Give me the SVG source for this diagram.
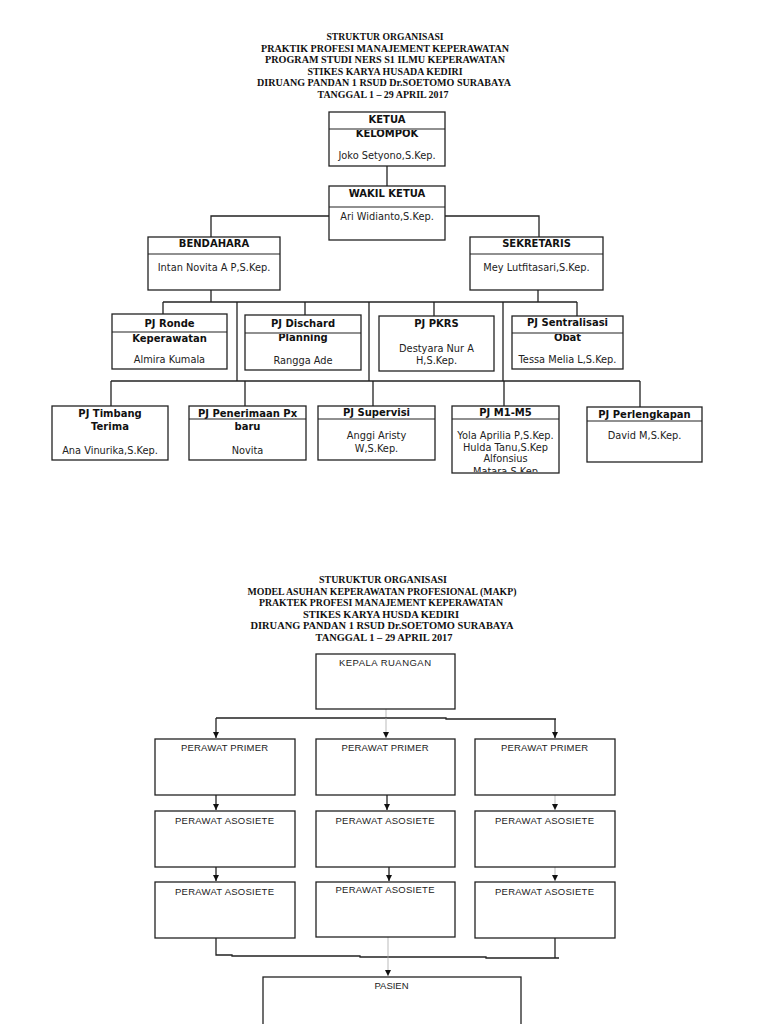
<svg xmlns="http://www.w3.org/2000/svg" width="768" height="1024" viewBox="0 0 768 1024">
<style>
.bx{fill:#fff;stroke:#222;stroke-width:1.3}
.hl{stroke:#222;stroke-width:1.2}
.cn{fill:none;stroke:#222;stroke-width:1.3}
.cg{fill:none;stroke:#aaa;stroke-width:0.8}
.t{font-family:"DejaVu Sans",sans-serif;font-size:9.8px;fill:#222;text-anchor:middle}
.b{font-family:"DejaVu Sans",sans-serif;font-size:10px;font-weight:bold;fill:#111;text-anchor:middle}
.tt{font-family:"Liberation Serif",serif;font-size:11px;font-weight:bold;fill:#111;text-anchor:middle}
.a{font-family:"Liberation Sans",sans-serif;font-size:9.5px;fill:#222;text-anchor:middle}
</style>
<defs>
<marker id="ar" markerUnits="userSpaceOnUse" markerWidth="6" markerHeight="6" refX="6" refY="3" orient="auto"><path d="M0,0 L6,3 L0,6 z" fill="#111"/></marker>
<clipPath id="c1"><rect x="320" y="130" width="130" height="40"/></clipPath>
<clipPath id="c2"><rect x="240" y="334" width="130" height="40"/></clipPath>
<clipPath id="c3"><rect x="505" y="334" width="130" height="40"/></clipPath>
<clipPath id="c4"><rect x="445" y="400" width="130" height="72"/></clipPath>
</defs>
<rect width="768" height="1024" fill="#fff"/>

<g id="title1">
<text class="tt" x="385" y="40" textLength="117" lengthAdjust="spacingAndGlyphs">STRUKTUR ORGANISASI</text>
<text class="tt" x="385" y="51.5" textLength="248" lengthAdjust="spacingAndGlyphs">PRAKTIK PROFESI MANAJEMENT KEPERAWATAN</text>
<text class="tt" x="385" y="63" textLength="240" lengthAdjust="spacingAndGlyphs">PROGRAM STUDI NERS S1 ILMU KEPERAWATAN</text>
<text class="tt" x="385" y="74.5" textLength="155" lengthAdjust="spacingAndGlyphs">STIKES KARYA HUSADA KEDIRI</text>
<text class="tt" x="384" y="86" textLength="254" lengthAdjust="spacingAndGlyphs">DIRUANG PANDAN 1 RSUD Dr.SOETOMO SURABAYA</text>
<text class="tt" x="383" y="97.5" textLength="131" lengthAdjust="spacingAndGlyphs">TANGGAL 1 – 29 APRIL 2017</text>
</g>

<g id="connectors1">
<path class="cn" d="M387,166 V186"/>
<path class="cn" d="M329,216 H211 V237 M445,216 H539 V237"/>
<path class="cn" d="M211,290 V302 M538,290 V302"/>
<path class="cn" d="M163,302 H577"/>
<path class="cn" d="M163,302 V314 M305,302 V315 M434,302 V316 M577,302 V316"/>
<path class="cn" d="M237,302 V381 M369,302 V381 M503,302 V381"/>
<path class="cn" d="M111,381 H640"/>
<path class="cn" d="M111,381 V406 M245,381 V406 M373,381 V406 M504,381 V406 M640,381 V407"/>
</g>

<g id="ketua">
<rect class="bx" x="329" y="112" width="116" height="54"/>
<text class="b" x="387" y="137" clip-path="url(#c1)">KELOMPOK</text>
<line class="hl" x1="329" y1="129" x2="445" y2="129"/>
<text class="b" x="387" y="123">KETUA</text>
<text class="t" x="387" y="159">Joko Setyono,S.Kep.</text>
</g>
<g id="wakil">
<rect class="bx" x="329" y="186" width="116" height="54"/>
<line class="hl" x1="329" y1="207" x2="445" y2="207"/>
<text class="b" x="387" y="197">WAKIL KETUA</text>
<text class="t" x="387" y="220">Ari Widianto,S.Kep.</text>
</g>
<g id="bendahara">
<rect class="bx" x="148" y="237" width="132" height="53"/>
<line class="hl" x1="148" y1="254" x2="280" y2="254"/>
<text class="b" x="214" y="247">BENDAHARA</text>
<text class="t" x="214" y="271">Intan Novita A P,S.Kep.</text>
</g>
<g id="sekretaris">
<rect class="bx" x="470" y="237" width="133" height="53"/>
<line class="hl" x1="470" y1="254" x2="603" y2="254"/>
<text class="b" x="536.5" y="247">SEKRETARIS</text>
<text class="t" x="536.5" y="271">Mey Lutfitasari,S.Kep.</text>
</g>

<g id="pj-ronde">
<rect class="bx" x="112" y="314" width="115" height="55"/>
<line class="hl" x1="112" y1="332" x2="227" y2="332"/>
<text class="b" x="169.5" y="327">PJ Ronde</text>
<text class="b" x="169.5" y="342">Keperawatan</text>
<text class="t" x="169.5" y="363">Almira Kumala</text>
</g>
<g id="pj-dischard">
<rect class="bx" x="245" y="315" width="116" height="55"/>
<text class="b" x="303" y="341" clip-path="url(#c2)">Planning</text>
<line class="hl" x1="245" y1="333" x2="361" y2="333"/>
<text class="b" x="303" y="327">PJ Dischard</text>
<text class="t" x="303" y="364">Rangga Ade</text>
</g>
<g id="pj-pkrs">
<rect class="bx" x="379" y="316" width="115" height="55"/>
<text class="b" x="436.5" y="327">PJ PKRS</text>
<text class="t" x="436.5" y="352">Destyara Nur A</text>
<text class="t" x="436.5" y="364">H,S.Kep.</text>
</g>
<g id="pj-sentralisasi">
<rect class="bx" x="512" y="316" width="111" height="53"/>
<text class="b" x="567.5" y="341" clip-path="url(#c3)">Obat</text>
<line class="hl" x1="512" y1="333" x2="623" y2="333"/>
<text class="b" x="567.5" y="326">PJ Sentralisasi</text>
<text class="t" x="567.5" y="363">Tessa Melia L,S.Kep.</text>
</g>

<g id="pj-timbang">
<rect class="bx" x="52" y="406" width="116" height="54"/>
<text class="b" x="110" y="417">PJ Timbang</text>
<text class="b" x="110" y="430">Terima</text>
<text class="t" x="110" y="454">Ana Vinurika,S.Kep.</text>
</g>
<g id="pj-penerimaan">
<rect class="bx" x="189" y="406" width="117" height="54"/>
<line class="hl" x1="189" y1="419" x2="306" y2="419"/>
<text class="b" x="247.5" y="417">PJ Penerimaan Px</text>
<text class="b" x="247.5" y="430">baru</text>
<text class="t" x="247.5" y="454">Novita</text>
</g>
<g id="pj-supervisi">
<rect class="bx" x="318" y="406" width="117" height="54"/>
<line class="hl" x1="318" y1="419" x2="435" y2="419"/>
<text class="b" x="376.5" y="416">PJ Supervisi</text>
<text class="t" x="376.5" y="439">Anggi Aristy</text>
<text class="t" x="376.5" y="452">W,S.Kep.</text>
</g>
<g id="pj-m1m5">
<rect class="bx" x="452" y="406" width="107" height="67"/>
<line class="hl" x1="452" y1="419" x2="559" y2="419"/>
<text class="b" x="505.5" y="416">PJ M1-M5</text>
<g clip-path="url(#c4)">
<text class="t" x="505.5" y="439">Yola Aprilia P,S.Kep.</text>
<text class="t" x="505.5" y="451">Hulda Tanu,S.Kep</text>
<text class="t" x="505.5" y="462">Alfonsius</text>
<text class="t" x="505.5" y="475">Matara,S.Kep</text>
</g>
</g>
<g id="pj-perlengkapan">
<rect class="bx" x="587" y="407" width="115" height="55"/>
<line class="hl" x1="587" y1="421" x2="702" y2="421"/>
<text class="b" x="644.5" y="418">PJ Perlengkapan</text>
<text class="t" x="644.5" y="439">David M,S.Kep.</text>
</g>

<g id="title2">
<text class="tt" x="383" y="583" textLength="128" lengthAdjust="spacingAndGlyphs">STURUKTUR ORGANISASI</text>
<text class="tt" x="382" y="594.5" textLength="269" lengthAdjust="spacingAndGlyphs">MODEL ASUHAN KEPERAWATAN PROFESIONAL (MAKP)</text>
<text class="tt" x="381" y="606" textLength="244" lengthAdjust="spacingAndGlyphs">PRAKTEK PROFESI MANAJEMENT KEPERAWATAN</text>
<text class="tt" x="381" y="617.5" textLength="156" lengthAdjust="spacingAndGlyphs">STIKES KARYA HUSDA KEDIRI</text>
<text class="tt" x="382" y="629" textLength="263" lengthAdjust="spacingAndGlyphs">DIRUANG PANDAN 1 RSUD Dr.SOETOMO SURABAYA</text>
<text class="tt" x="384" y="640.5" textLength="137" lengthAdjust="spacingAndGlyphs">TANGGAL 1 – 29 APRIL 2017</text>
</g>

<g id="connectors2">
<path class="cg" d="M386,709 V718"/>
<path class="cn" d="M216,718 H446 V719 H556"/>
<path class="cn" d="M216,718 V738" marker-end="url(#ar)"/>
<path class="cg" d="M386,718 V738" marker-end="url(#ar)"/>
<path class="cn" d="M555,719 V738" marker-end="url(#ar)"/>
<path class="cn" d="M216,795 V810" marker-end="url(#ar)"/>
<path class="cn" d="M387,795 V810" marker-end="url(#ar)"/>
<path class="cg" d="M555,795 V810" marker-end="url(#ar)"/>
<path class="cn" d="M216,867 V881" marker-end="url(#ar)"/>
<path class="cn" d="M389,867 V881" marker-end="url(#ar)"/>
<path class="cg" d="M555,867 V881" marker-end="url(#ar)"/>
<path class="cn" d="M216,938 V955 H232 V956 H360 V957 H486 V958 H559 M555,938 V958"/>
<path class="cg" d="M388,937 V976" marker-end="url(#ar)"/>
</g>

<g id="kepala-ruangan">
<rect class="bx" x="316" y="654" width="139" height="55"/>
<text class="a" x="385" y="666" textLength="92">KEPALA RUANGAN</text>
</g>
<g id="primer-1">
<rect class="bx" x="155" y="739" width="140" height="56"/>
<text class="a" x="224.5" y="751" textLength="87">PERAWAT PRIMER</text>
</g>
<g id="primer-2">
<rect class="bx" x="316" y="739" width="139" height="56"/>
<text class="a" x="385" y="751" textLength="87">PERAWAT PRIMER</text>
</g>
<g id="primer-3">
<rect class="bx" x="475" y="739" width="140" height="56"/>
<text class="a" x="544.5" y="751" textLength="87">PERAWAT PRIMER</text>
</g>
<g id="asosiete-1a">
<rect class="bx" x="155" y="811" width="140" height="56"/>
<text class="a" x="224.5" y="824" textLength="99">PERAWAT ASOSIETE</text>
</g>
<g id="asosiete-2a">
<rect class="bx" x="316" y="811" width="139" height="56"/>
<text class="a" x="385" y="824" textLength="99">PERAWAT ASOSIETE</text>
</g>
<g id="asosiete-3a">
<rect class="bx" x="475" y="811" width="140" height="56"/>
<text class="a" x="544.5" y="824" textLength="99">PERAWAT ASOSIETE</text>
</g>
<g id="asosiete-1b">
<rect class="bx" x="155" y="882" width="140" height="56"/>
<text class="a" x="224.5" y="895" textLength="99">PERAWAT ASOSIETE</text>
</g>
<g id="asosiete-2b">
<rect class="bx" x="316" y="882" width="139" height="55"/>
<text class="a" x="385" y="893" textLength="99">PERAWAT ASOSIETE</text>
</g>
<g id="asosiete-3b">
<rect class="bx" x="475" y="882" width="140" height="56"/>
<text class="a" x="544.5" y="895" textLength="99">PERAWAT ASOSIETE</text>
</g>
<g id="pasien">
<rect class="bx" x="263" y="977" width="258" height="60"/>
<text class="a" x="391.5" y="989">PASIEN</text>
</g>
</svg>
